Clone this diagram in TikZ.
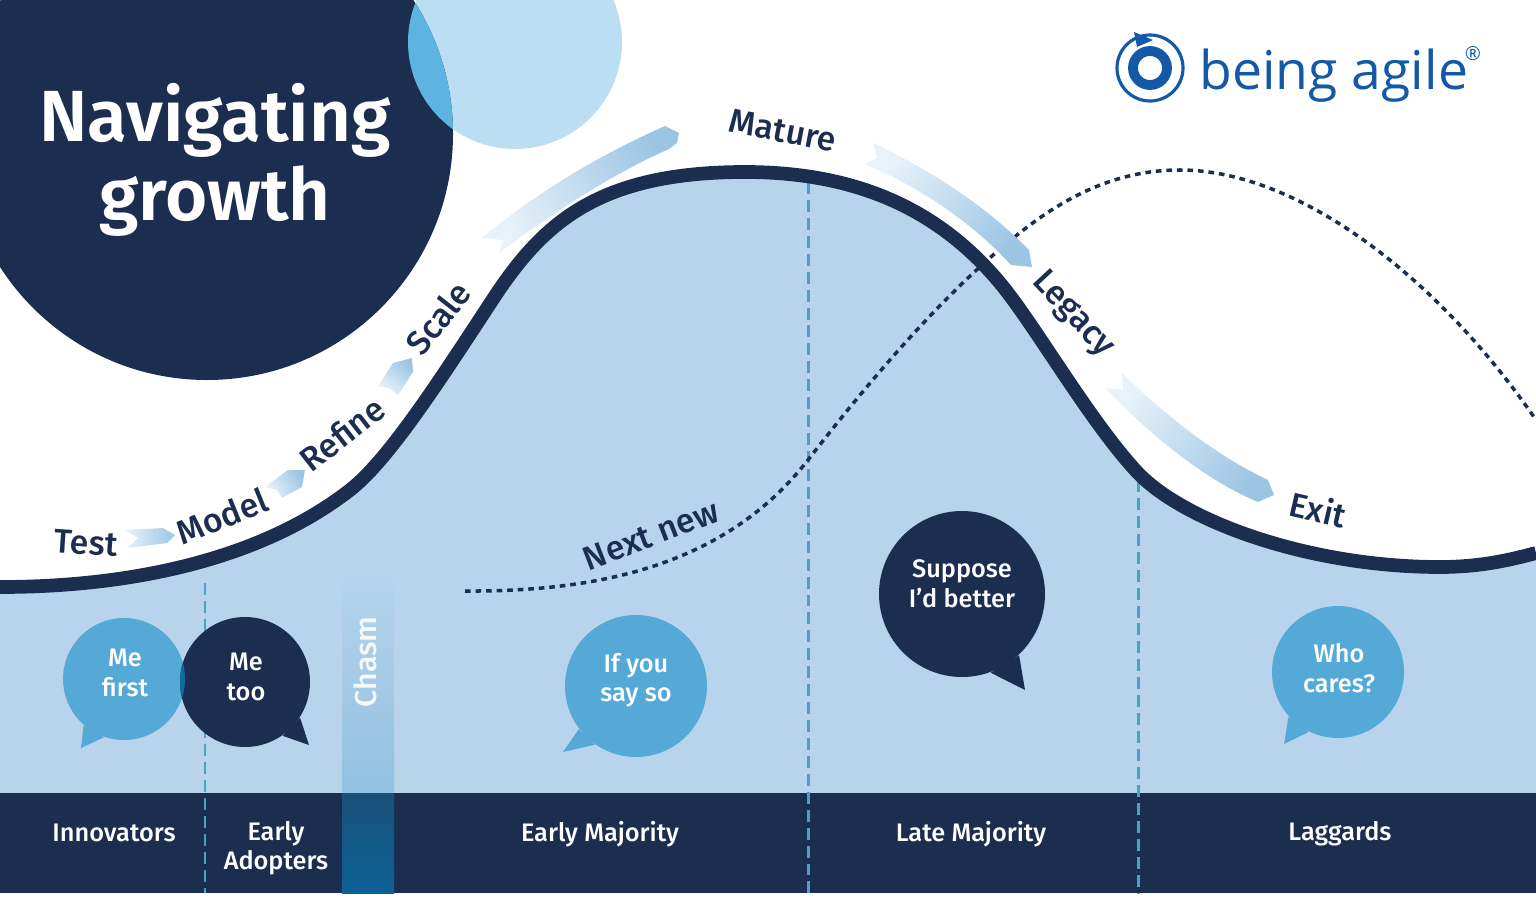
\documentclass[tikz,border=0pt]{standalone}
\usepackage{fontspec}
\setmainfont{Fira Sans}
\newfontfamily\logofont{Open Sans}
\newfontfamily\mediumfont{Fira Sans Medium}
\newfontfamily\titlefont{Fira Sans SemiBold}
\definecolor{navy}{HTML}{1C2E50}
\definecolor{body}{HTML}{B8D4EC}
\definecolor{sky}{HTML}{55A9D6}
\definecolor{pale}{HTML}{BBDEF3}
\definecolor{brand}{HTML}{1459A8}
\definecolor{flow}{HTML}{9CC5E4}
\definecolor{rule}{HTML}{4A9FCB}
\definecolor{cross}{HTML}{5EB4E0}
\definecolor{deep}{HTML}{0E6CA5}
\definecolor{chasmtop}{HTML}{1B5078}
\definecolor{chasmlow}{HTML}{0A6296}
\tikzset{
	stage/.style={text=navy,font=\mediumfont\fontsize{9.6}{11}\selectfont,inner sep=0pt},
	group/.style={text=white,align=center,font=\mediumfont\fontsize{7.2}{8.4}\selectfont,inner sep=0pt},
	say/.style={text=white,align=center,font=\mediumfont\fontsize{7.2}{8.4}\selectfont,inner sep=0pt},
	bubble/.style={circle,inner sep=0pt,minimum size=#1*0.01cm},
	divider/.style={rule,dash pattern=on 3.4pt off 1.7pt,line width=0.85pt},
	flowarrow/.style={bottom color=flow!22!white,top color=flow,shading angle=#1,draw=none}
}
\begin{document}
\begin{tikzpicture}[x=0.01cm,y=-0.01cm]
	\useasboundingbox (0,0) rectangle (1536,900);
	\def\growth{(0,587) .. controls (130,587) and (260,560) .. (350,490)
		.. controls (390,459) and (445,372) .. (497,293)
		.. controls (545,222) and (600,172) .. (745,172)
		.. controls (850,172) and (935,205) .. (1000,283)
		.. controls (1035,325) and (1090,422) .. (1138,473)
		.. controls (1185,522) and (1310,567) .. (1440,567)
		.. controls (1480,567) and (1510,560) .. (1536,553)}
	\fill [body] \growth -- (1536,793) -- (0,793) -- cycle;
	\shade [top color=body,bottom color=flow!85!sky] (342,565) rectangle (394,793);
	\fill [navy] (0,793) rectangle (1536,893);
	\shade [top color=chasmtop,bottom color=chasmlow] (342,793) rectangle (394,893);
	\draw [divider] (205,583) -- (205,893);
	\draw [divider] (808,182) -- (808,893);
	\draw [divider] (1138,480) -- (1138,893);
	\draw [navy,line width=3.9pt] \growth;
	\draw [navy,line width=1pt,dash pattern=on 1.6pt off 1.4pt] (465,591)
		.. controls (610,592) and (730,560) .. (808,460)
		.. controls (870,380) and (950,285) .. (1030,225)
		.. controls (1090,180) and (1140,170) .. (1180,170)
		.. controls (1300,170) and (1440,280) .. (1536,420);
	\fill [pale] (515,42) circle (107);
	\fill [navy] (207,134) circle (246);
	\begin{scope}
		\clip (207,134) circle (246);
		\fill [cross] (515,42) circle (107);
	\end{scope}
	\node [text=white,align=center,font=\titlefont\fontsize{20.6}{22.5}\selectfont,inner sep=0pt] (title) at (215,160) {Navigating\\growth};
	\shade [flowarrow=-90] (125,530) -- (163,528) -- (175,535) -- (167,543) -- (127,548) -- (138,538) -- cycle;
	\shade [flowarrow=-60] (265,487) -- (288,470) -- (305,470) -- (302,487) -- (282,498) -- (277,490) -- cycle;
	\shade [flowarrow=-40] (378,386) -- (393,363) -- (412,358) -- (413,372) -- (398,395) -- (389,388) -- cycle;
	\shade [flowarrow=-58] (482,238) .. controls (540,190) and (600,155) .. (665,126)
		-- (679,133) -- (677,143) -- (669,149) .. controls (610,175) and (550,215) .. (499,253) -- (503,240) -- cycle;
	\shade [flowarrow=-130] (873,143) .. controls (930,170) and (985,205) .. (1029,250)
		-- (1032,267) -- (1011,265) .. controls (970,220) and (915,185) .. (865,164) -- (877,158) -- cycle;
	\shade [flowarrow=-125] (1122,373) .. controls (1165,415) and (1215,455) .. (1268,480)
		-- (1274,495) -- (1258,502) .. controls (1205,480) and (1150,435) .. (1105,388) -- (1123,390) -- cycle;
	\node [stage,rotate=-4] (test) at (86,543) {Test};
	\node [stage,rotate=22] (model) at (222,516) {Model};
	\node [stage,rotate=38] (refine) at (342,434) {Refine};
	\node [stage,rotate=52] (scale) at (438,318) {Scale};
	\node [stage,rotate=-11] (mature) at (783,131) {Mature};
	\node [stage,rotate=-47] (legacy) at (1073,315) {Legacy};
	\node [stage,rotate=-13] (exit) at (1318,509) {Exit};
	\node [stage,rotate=21] (next) at (651,535) {Next new};
	\node [bubble=122,fill=sky] (mefirst) at (124,679) {};
	\fill [sky] (mefirst.229) -- (81,748) -- (mefirst.251) -- cycle;
	\node [bubble=130,fill=navy] (metoo) at (245,682) {};
	\fill [navy] (metoo.-33) -- (309,745) -- (metoo.-55) -- cycle;
	\begin{scope}
		\clip (124,679) circle (61);
		\fill [deep] (245,682) circle (65);
	\end{scope}
	\node [bubble=142,fill=sky] (ifyou) at (636,686) {};
	\fill [sky] (ifyou.217) -- (563,752) -- (ifyou.235) -- cycle;
	\node [bubble=166,fill=navy] (suppose) at (962,594) {};
	\fill [navy] (suppose.-47) -- (1025,690) -- (suppose.-70) -- cycle;
	\node [bubble=132,fill=sky] (who) at (1338,672) {};
	\fill [sky] (who.222) -- (1284,744) -- (who.244) -- cycle;
	\node [say] (mefirstText) at (125,673) {Me\\first};
	\node [say] (metooText) at (246,677) {Me\\too};
	\node [say] (ifyouText) at (636,680) {If you\\say so};
	\node [say] (supposeText) at (962,584) {Suppose\\I’d better};
	\node [say] (whoText) at (1339,668) {Who\\cares?};
	\node [say,rotate=90,text=white!85!body,font=\mediumfont\fontsize{8.6}{10}\selectfont] (chasm) at (365,662) {Chasm};
	\node [group] (innovators) at (114,833) {Innovators};
	\node [group] (adopters) at (276,848) {Early\\Adopters};
	\node [group] (earlymaj) at (600,834) {Early Majority};
	\node [group] (latemaj) at (971,834) {Late Majority};
	\node [group] (laggards) at (1340,834) {Laggards};
	\draw [brand,line width=0.9pt] (1150,68) circle (33);
	\draw [brand,line width=2.8pt] (1150,68) circle (17);
	\fill [brand] (1134,32) -- (1153,40) -- (1137,47) -- cycle;
	\node [text=brand,anchor=base west,font=\logofont\fontsize{15.2}{17}\selectfont,inner sep=0pt] (logo) at (1199,89) {being agile};
	\node [text=brand,font=\logofont\fontsize{5.5}{6}\selectfont,inner sep=0pt] (reg) at (1473,54) {®};
\end{tikzpicture}
\end{document}
